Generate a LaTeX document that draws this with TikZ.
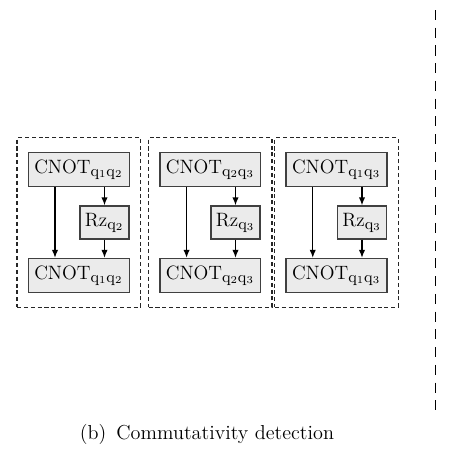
\documentclass[tikz,border=0pt]{standalone}
\usetikzlibrary{arrows.meta,fit,positioning}
\DeclareMathSizes{11}{11}{9}{6.5}
\begin{document}
\begin{tikzpicture}[x=0.02cm, y=-0.02cm]
% Commutativity groups, one dashed frame per gate pair
\def\wireshift{-0.475cm}
\providecommand{\gateFillColor}{black!8}
\providecommand{\gateLineColor}{black!75}
\providecommand{\gateLineWidth}{0.8pt}
\tikzset{
  gatebox/.style={draw=\gateLineColor, fill=\gateFillColor, line width=\gateLineWidth,
    inner sep=0pt, minimum height=0.68cm, font=\fontsize{11}{13}\selectfont},
  cnotbox/.style={gatebox, minimum width=2.02cm},
  rzbox/.style={gatebox, minimum width=0.98cm, minimum height=0.66cm},
  groupframe/.style={draw=black!85, line width=0.7pt, dash pattern=on 2.3pt off 1.6pt,
    inner xsep=0.21cm, inner ysep=0.28cm},
  wire/.style={-{Latex[length=4.5pt,width=3.6pt]}, line width=0.7pt},
  sepline/.style={line width=0.85pt, dash pattern=on 5.7pt off 4.4pt}
}
\useasboundingbox (0,0) rectangle (474,474);
% First group
\node[cnotbox] (cnotA1) at (78.75,169.5) {CNOT$_{\mathrm{q}_1\mathrm{q}_2}$};
\node[rzbox] (rzA) at (104.5,222.5) {Rz$_{\mathrm{q}_2}$};
\node[cnotbox] (cnotA2) at (78.75,275.5) {CNOT$_{\mathrm{q}_1\mathrm{q}_2}$};
\draw[wire] ([xshift=\wireshift]cnotA1.south) -- ([xshift=\wireshift]cnotA1.south |- cnotA2.north);
\draw[wire] (cnotA1.south -| rzA) -- (rzA.north);
\draw[wire] (rzA.south) -- (rzA.south |- cnotA2.north);
\node[groupframe, fit=(cnotA1) (cnotA2)] (groupA) {};
% Second group
\node[cnotbox] (cnotB1) at (210.3,169.5) {CNOT$_{\mathrm{q}_2\mathrm{q}_3}$};
\node[rzbox] (rzB) at (235.5,222.5) {Rz$_{\mathrm{q}_3}$};
\node[cnotbox] (cnotB2) at (210.3,275.5) {CNOT$_{\mathrm{q}_2\mathrm{q}_3}$};
\draw[wire] ([xshift=\wireshift]cnotB1.south) -- ([xshift=\wireshift]cnotB1.south |- cnotB2.north);
\draw[wire] (cnotB1.south -| rzB) -- (rzB.north);
\draw[wire] (rzB.south) -- (rzB.south |- cnotB2.north);
\node[groupframe, fit=(cnotB1) (cnotB2)] (groupB) {};
% Third group
\node[cnotbox] (cnotC1) at (336.5,169.5) {CNOT$_{\mathrm{q}_1\mathrm{q}_3}$};
\node[rzbox] (rzC) at (362,222.5) {Rz$_{\mathrm{q}_3}$};
\node[cnotbox] (cnotC2) at (336.5,275.5) {CNOT$_{\mathrm{q}_1\mathrm{q}_3}$};
\draw[wire] ([xshift=\wireshift]cnotC1.south) -- ([xshift=\wireshift]cnotC1.south |- cnotC2.north);
\draw[wire] (cnotC1.south -| rzC) -- (rzC.north);
\draw[wire] (rzC.south) -- (rzC.south |- cnotC2.north);
\node[groupframe, fit=(cnotC1) (cnotC2)] (groupC) {};
% Separator on the right
\coordinate (sepTop) at (435.6,10);
\coordinate (sepBot) at (435.6,413);
\draw[sepline] (sepTop) -- (sepBot);
% Sub-caption
\node[font=\fontsize{11.5}{13}\selectfont] (caption) at (207,434) {(b)\enspace Commutativity detection};
\end{tikzpicture}
\end{document}
